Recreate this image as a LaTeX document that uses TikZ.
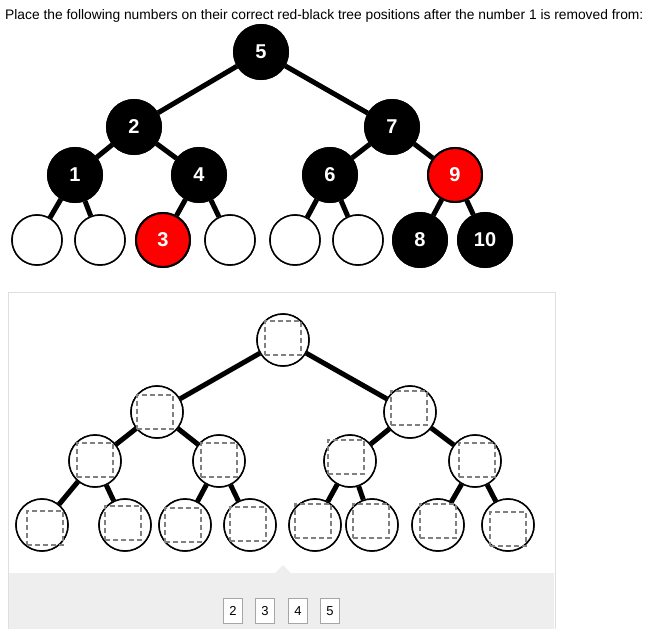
\documentclass[tikz,border=0pt]{standalone}
\usepackage{fontspec}
\setmainfont{Liberation Sans}
\begin{document}
\begin{tikzpicture}[x=1pt,y=-1pt,
 bn/.style={circle,fill=black,draw=black,line width=2pt,minimum size=54pt,inner sep=0pt,text=white,font=\bfseries\fontsize{20}{20}\selectfont},
 rn/.style={bn,fill=red},
 wn/.style={circle,fill=white,draw=black,line width=1.5pt,minimum size=50pt,inner sep=0pt},
 en/.style={circle,fill=white,draw=black,line width=1.5pt,minimum size=52pt,inner sep=0pt},
 edge/.style={line width=5pt},
 slot/.style={draw=gray,dash pattern=on 5pt off 3pt,line width=1.5pt,minimum width=36pt,minimum height=34pt,inner sep=0pt},
 chip/.style={draw=gray!70,fill=white,minimum width=19pt,minimum height=25pt,inner sep=0pt,font=\fontsize{13}{13}\selectfont}]
\useasboundingbox (0,0) rectangle (657,629);
\node[anchor=west,inner sep=0pt] (title) at (5,16) {\fontsize{13.8}{14}\selectfont Place the following numbers on their correct red-black tree positions after the number 1 is removed from:};
% upper tree
\node[bn] (a5) at (261,52) {5};
\node[bn] (a2) at (134,127) {2};
\node[bn] (a7) at (392,127) {7};
\node[bn] (a1) at (75,175) {1};
\node[bn] (a4) at (199,175) {4};
\node[bn] (a6) at (330,175) {6};
\node[rn] (a9) at (455,175) {9};
\node[wn] (l1) at (37,240) {};
\node[wn] (l2) at (100,240) {};
\node[rn] (a3) at (163,240) {3};
\node[wn] (l4) at (230,240) {};
\node[wn] (l5) at (295,240) {};
\node[wn] (l6) at (358,240) {};
\node[bn] (a8) at (420,240) {8};
\node[bn] (a10) at (485,240) {10};
\foreach \p/\c in {a5/a2,a5/a7,a2/a1,a2/a4,a7/a6,a7/a9,a1/l1,a1/l2,a4/a3,a4/l4,a6/l5,a6/l6,a9/a8,a9/a10}
  \draw[edge] (\p) -- (\c);
% redraw nodes on top
\foreach \n/\x/\y/\s/\t in {a5/261/52/bn/5,a2/134/127/bn/2,a7/392/127/bn/7,a1/75/175/bn/1,a4/199/175/bn/4,a6/330/175/bn/6,a9/455/175/rn/9,a3/163/240/rn/3,a8/420/240/bn/8,a10/485/240/bn/10}
  \node[\s] at (\x,\y) {\t};
\foreach \x in {37,100,230,295,358} \node[wn] at (\x,240) {};
% lower panel
\draw[gray!25,line width=0.8pt] (8,292) rectangle (555,629);
\fill[gray!13] (9,573) -- (275,573) -- (283,565) -- (291,573) -- (554,573) -- (554,629) -- (9,629) -- cycle;
\node[en] (b1) at (283,340) {};
\node[en] (b2) at (157,412) {};
\node[en] (b3) at (410,412) {};
\node[en] (b4) at (95,461) {};
\node[en] (b5) at (219,461) {};
\node[en] (b6) at (350,461) {};
\node[en] (b7) at (475,461) {};
\node[en] (c1) at (42,525) {};
\node[en] (c2) at (125,525) {};
\node[en] (c3) at (185,525) {};
\node[en] (c4) at (250,525) {};
\node[en] (c5) at (315,525) {};
\node[en] (c6) at (372,525) {};
\node[en] (c7) at (438,525) {};
\node[en] (c8) at (508,525) {};
\foreach \p/\c in {b1/b2,b1/b3,b2/b4,b2/b5,b3/b6,b3/b7,b4/c1,b4/c2,b5/c3,b5/c4,b6/c5,b6/c6,b7/c7,b7/c8}
  \draw[edge] (\p) -- (\c);
\foreach \x/\y in {283/340,157/412,410/412,95/461,219/461,350/461,475/461,42/525,125/525,185/525,250/525,315/525,372/525,438/525,508/525}
  \node[en] at (\x,\y) {};
\foreach \x/\y in {283/338,155/412,409/408,95/460,219/460,346/457,477/460,45/528,123/523,183/525,248/524,313/521,371/521,438/521,508/529}
  \node[slot] at (\x,\y) {};
\node[chip] (k2) at (233,611) {2};
\node[chip] (k3) at (265,611) {3};
\node[chip] (k4) at (298,611) {4};
\node[chip] (k5) at (330,611) {5};
\end{tikzpicture}
\end{document}
